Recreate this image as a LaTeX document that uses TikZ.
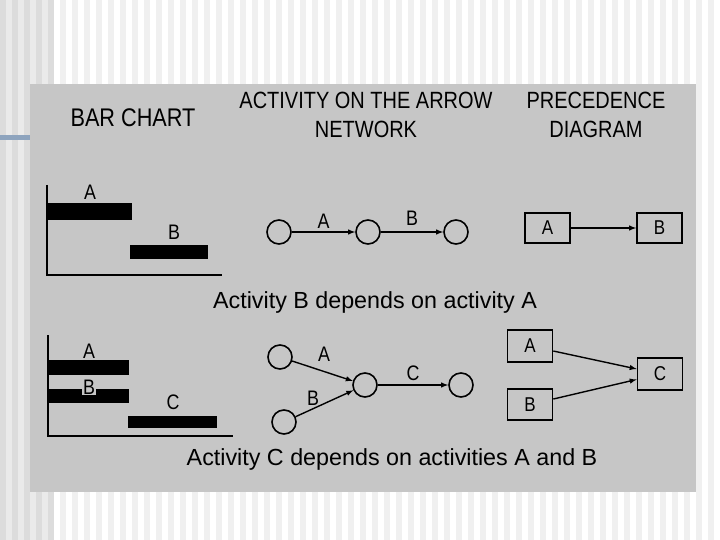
\documentclass[tikz,border=0pt]{standalone}
\usepackage{fontspec}
\setmainfont{Liberation Sans}
\newfontfamily\narrowsf[FakeStretch=0.85]{Liberation Sans}
\usetikzlibrary{positioning,arrows}
\definecolor{panel}{HTML}{C6C6C6}
\definecolor{rulebl}{HTML}{8EA4BE}
\definecolor{stripe}{HTML}{DCDCDC}
\definecolor{stripelt}{HTML}{F0F0F0}

\begin{document}
\begin{tikzpicture}[x=1pt,y=-1pt,
        lbl/.style={inner sep=0pt,font=\narrowsf\fontsize{21}{21}\selectfont},
        ttl/.style={inner sep=0pt,align=center,font=\narrowsf\fontsize{23.5}{29}\selectfont},
        captxt/.style={inner sep=0pt,font=\fontsize{23.3}{24}\selectfont},
        evt/.style={circle,draw,line width=1.6pt,minimum size=24pt,inner sep=0pt},
        act/.style={draw,line width=1.6pt,minimum width=45pt,minimum height=30pt,inner sep=0pt,font=\narrowsf\fontsize{20}{20}\selectfont},
        bar/.style={fill=black,inner sep=0pt,anchor=north west},
        link/.style={line width=1.4pt,-latex}]
        \useasboundingbox (0,0) rectangle (720,540);

        % page stripes
        \fill[white] (0,0) rectangle (720,540);
        \fill[stripe!60!white] (0,0) rectangle (53,540);
        \foreach \x in {0,12,...,48}
        {
            \fill[stripe] (\x,0) rectangle (\x+6,540);
        }
        \foreach \x in {60,72,...,708}
        {
            \fill[stripelt] (\x,0) rectangle (\x+6,540);
        }
        \fill[rulebl] (0,135) rectangle (30,140);

        % scanned panel
        \fill[panel] (30,84) rectangle (696,492);

        % titles
        \node[ttl,font=\narrowsf\fontsize{25.5}{26}\selectfont] (tBar) at (133,118) {BAR CHART};
        \node[ttl] (tAoa) at (366,115) {ACTIVITY ON THE ARROW\\NETWORK};
        \node[ttl] (tPre) at (596,115) {PRECEDENCE\\DIAGRAM};

        % bar chart, first case
        \draw[line width=2.4pt] (47,185) -- (47,275) -- (222,275);
        \node[bar,minimum width=85pt,minimum height=17pt] (barA) at (47,203) {};
        \node[bar,minimum width=78pt,minimum height=14pt] (barB) at (130,245) {};
        \node[lbl] (lA) at (90,192) {A};
        \node[lbl] (lB) at (174,232) {B};

        % arrow network, first case
        \node[evt] (e1) at (279,232) {};
        \node[evt] (e2) at (368,232) {};
        \node[evt] (e3) at (456,232) {};
        \draw[link] (e1) -- node[lbl,above=3pt] {A} (e2);
        \draw[link] (e2) -- node[lbl,above=6pt] {B} (e3);

        % precedence, first case
        \node[act] (pA) at (547.5,228) {A};
        \node[act] (pB) at (659.5,228) {B};
        \draw[link] (pA) -- (pB);

        \node[captxt] (cap1) at (375,302) {Activity B depends on activity A};

        % bar chart, second case
        \draw[line width=2.4pt] (48,335) -- (48,436) -- (233,436);
        \node[bar,minimum width=81pt,minimum height=15pt] (barA2) at (48,360) {};
        \node[bar,minimum width=81pt,minimum height=14pt] (barB2) at (48,389) {};
        \node[bar,minimum width=89pt,minimum height=12pt] (barC2) at (128,416) {};
        \node[lbl] (lA2) at (89,351) {A};
        \node[lbl,fill=panel,inner sep=1pt] (lB2) at (89,387) {B};
        \node[lbl] (lC2) at (173,402) {C};

        % arrow network, second case
        \node[evt] (f1) at (280,357) {};
        \node[evt] (f2) at (284,422) {};
        \node[evt] (f3) at (365,385) {};
        \node[evt] (f4) at (461,385) {};
        \draw[link] (f1) -- (f3);
        \draw[link] (f2) -- (f3);
        \draw[link] (f3) -- node[lbl,above=4pt] {C} (f4);
        \node[lbl] (lfA) at (324,354) {A};
        \node[lbl] (lfB) at (313,398) {B};

        % precedence, second case
        \node[act,minimum height=32pt] (qA) at (530,346) {A};
        \node[act,minimum height=31pt] (qB) at (530,404.5) {B};
        \node[act,minimum height=32pt] (qC) at (660,374) {C};
        \draw[link] (qA) -- (qC);
        \draw[link] (qB) -- (qC);

        \node[captxt] (cap2) at (392,459) {Activity C depends on activities A and B};
\end{tikzpicture}
\end{document}
